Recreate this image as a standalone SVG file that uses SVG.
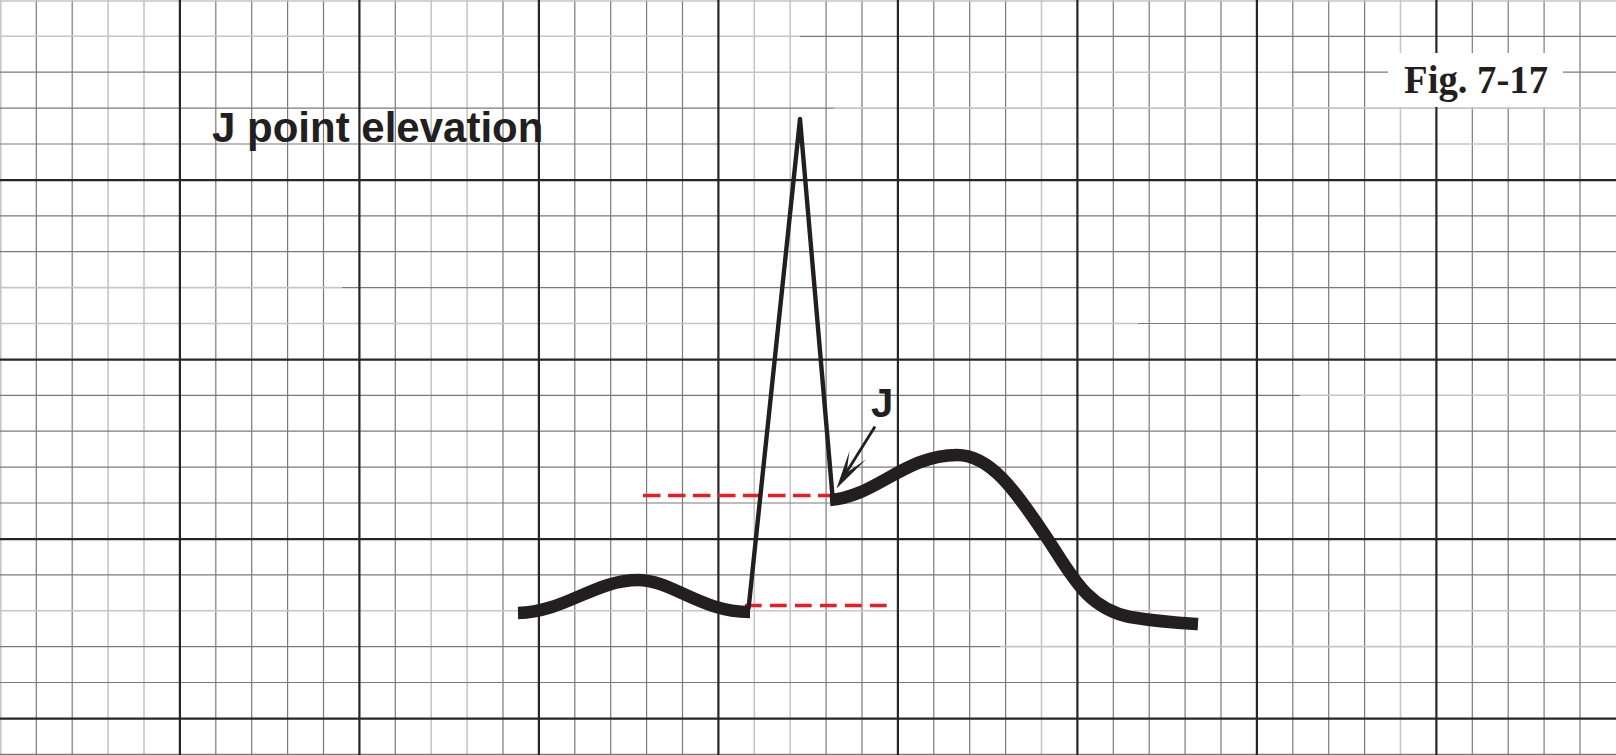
<svg xmlns="http://www.w3.org/2000/svg" width="1616" height="755" viewBox="0 0 1616 755">
<style>
.mn{stroke:#7a7a7a;stroke-width:1.2;fill:none}
.lt{stroke:#c6c6c6;stroke-width:1.6;fill:none}
.mj{stroke:#262626;stroke-width:2.2;fill:none}
.wave{stroke:#231f20;fill:none}
.thick{stroke-width:12.5;stroke-linecap:butt;stroke-linejoin:round}
.thin{stroke-width:4.4;stroke-linecap:butt;stroke-linejoin:round}
.ref{stroke:#ed1c24;stroke-width:3.3;fill:none}
.sans{font-family:"Liberation Sans",Arial,Helvetica,sans-serif;font-weight:bold;fill:#231f20}
.serif{font-family:"Liberation Serif","Times New Roman",serif;font-weight:bold;fill:#231f20}
</style>
<rect x="0" y="0" width="1616" height="755" fill="#ffffff"/>
<g id="grid">
<g id="grid-vertical-minor">
<line class="lt" x1="0.8" y1="0" x2="0.8" y2="755"/>
<line class="mn" x1="36.3" y1="0" x2="36.3" y2="755"/>
<line class="mn" x1="72.2" y1="0" x2="72.2" y2="755"/>
<line class="lt" x1="108.1" y1="0" x2="108.1" y2="755"/>
<line class="lt" x1="144" y1="0" x2="144" y2="755"/>
<line class="mn" x1="215.8" y1="0" x2="215.8" y2="755"/>
<line class="mn" x1="251.7" y1="0" x2="251.7" y2="755"/>
<line class="mn" x1="287.6" y1="0" x2="287.6" y2="755"/>
<line class="mn" x1="323.5" y1="0" x2="323.5" y2="755"/>
<line class="mn" x1="395.3" y1="0" x2="395.3" y2="755"/>
<line class="lt" x1="431.2" y1="0" x2="431.2" y2="755"/>
<line class="lt" x1="467.1" y1="0" x2="467.1" y2="755"/>
<line class="mn" x1="503" y1="0" x2="503" y2="755"/>
<line class="mn" x1="574.8" y1="0" x2="574.8" y2="755"/>
<line class="mn" x1="610.7" y1="0" x2="610.7" y2="755"/>
<line class="mn" x1="646.6" y1="0" x2="646.6" y2="755"/>
<line class="mn" x1="682.5" y1="0" x2="682.5" y2="755"/>
<line class="lt" x1="754.3" y1="0" x2="754.3" y2="755"/>
<line class="lt" x1="790.2" y1="0" x2="790.2" y2="755"/>
<line class="mn" x1="826.1" y1="0" x2="826.1" y2="755"/>
<line class="mn" x1="862" y1="0" x2="862" y2="755"/>
<line class="mn" x1="933.8" y1="0" x2="933.8" y2="755"/>
<line class="mn" x1="969.7" y1="0" x2="969.7" y2="755"/>
<line class="mn" x1="1005.6" y1="0" x2="1005.6" y2="755"/>
<line class="lt" x1="1041.5" y1="0" x2="1041.5" y2="755"/>
<line class="mn" x1="1113.3" y1="0" x2="1113.3" y2="755"/>
<line class="mn" x1="1149.2" y1="0" x2="1149.2" y2="755"/>
<line class="mn" x1="1185.1" y1="0" x2="1185.1" y2="755"/>
<line class="mn" x1="1221" y1="0" x2="1221" y2="755"/>
<line class="mn" x1="1292.8" y1="0" x2="1292.8" y2="755"/>
<line class="mn" x1="1328.7" y1="0" x2="1328.7" y2="755"/>
<line class="mn" x1="1364.6" y1="0" x2="1364.6" y2="755"/>
<line class="lt" x1="1400.5" y1="0" x2="1400.5" y2="755"/>
<line class="mn" x1="1472.3" y1="0" x2="1472.3" y2="755"/>
<line class="mn" x1="1508.2" y1="0" x2="1508.2" y2="755"/>
<line class="mn" x1="1544.1" y1="0" x2="1544.1" y2="755"/>
<line class="mn" x1="1580" y1="0" x2="1580" y2="755"/>
</g>
<g id="grid-horizontal-minor">
<line class="lt" x1="0" y1="1" x2="1616" y2="1"/>
<line class="lt" x1="0" y1="36.3" x2="800" y2="36.3"/>
<line class="mn" x1="800" y1="36.3" x2="1616" y2="36.3"/>
<line class="mn" x1="0" y1="72.2" x2="323" y2="72.2"/>
<line class="lt" x1="323" y1="72.2" x2="1292" y2="72.2"/>
<line class="mn" x1="1292" y1="72.2" x2="1616" y2="72.2"/>
<line class="mn" x1="0" y1="108.1" x2="834" y2="108.1"/>
<line class="lt" x1="834" y1="108.1" x2="1616" y2="108.1"/>
<line class="mn" x1="0" y1="144" x2="1432" y2="144"/>
<line class="lt" x1="1432" y1="144" x2="1616" y2="144"/>
<line class="mn" x1="0" y1="215.8" x2="1616" y2="215.8"/>
<line class="mn" x1="0" y1="251.7" x2="1616" y2="251.7"/>
<line class="lt" x1="0" y1="287.6" x2="342" y2="287.6"/>
<line class="mn" x1="342" y1="287.6" x2="1616" y2="287.6"/>
<line class="lt" x1="0" y1="323.5" x2="1138" y2="323.5"/>
<line class="mn" x1="1138" y1="323.5" x2="1616" y2="323.5"/>
<line class="mn" x1="0" y1="395.3" x2="1300" y2="395.3"/>
<line class="lt" x1="1300" y1="395.3" x2="1616" y2="395.3"/>
<line class="mn" x1="0" y1="431.2" x2="1616" y2="431.2"/>
<line class="mn" x1="0" y1="467.1" x2="1616" y2="467.1"/>
<line class="mn" x1="0" y1="503" x2="1616" y2="503"/>
<line class="mn" x1="0" y1="574.8" x2="1616" y2="574.8"/>
<line class="lt" x1="0" y1="610.7" x2="1616" y2="610.7"/>
<line class="mn" x1="0" y1="646.6" x2="1000" y2="646.6"/>
<line class="lt" x1="1000" y1="646.6" x2="1616" y2="646.6"/>
<line class="mn" x1="0" y1="682.5" x2="1616" y2="682.5"/>
<line class="mn" x1="0" y1="754.3" x2="1616" y2="754.3"/>
</g>
<g id="grid-major">
<line class="mj" x1="179.9" y1="0" x2="179.9" y2="755"/>
<line class="mj" x1="359.4" y1="0" x2="359.4" y2="755"/>
<line class="mj" x1="538.9" y1="0" x2="538.9" y2="755"/>
<line class="mj" x1="718.4" y1="0" x2="718.4" y2="755"/>
<line class="mj" x1="897.9" y1="0" x2="897.9" y2="755"/>
<line class="mj" x1="1077.4" y1="0" x2="1077.4" y2="755"/>
<line class="mj" x1="1256.9" y1="0" x2="1256.9" y2="755"/>
<line class="mj" x1="1436.4" y1="0" x2="1436.4" y2="755"/>
<line class="mj" x1="0" y1="180.2" x2="1616" y2="180.2"/>
<line class="mj" x1="0" y1="359.7" x2="1616" y2="359.7"/>
<line class="mj" x1="0" y1="539.2" x2="1616" y2="539.2"/>
<line class="mj" x1="0" y1="718.6" x2="1616" y2="718.6"/>
</g>
</g>
<g id="title">
<text class="sans" x="212" y="141.5" font-size="42">J point elevation</text>
</g>
<g id="fig-label">
<rect x="1388" y="53" width="175" height="54" fill="#ffffff"/>
<text class="serif" x="1404" y="93" font-size="40" textLength="144" lengthAdjust="spacingAndGlyphs">Fig. 7-17</text>
</g>
<g id="reference-lines">
<line class="ref" x1="745" y1="605.5" x2="887" y2="605.5" stroke-dasharray="16.7 8.3"/>
<line class="ref" x1="643" y1="495.5" x2="835" y2="495.5" stroke-dasharray="17.5 7.5"/>
</g>
<g id="ecg-trace">
<path class="wave thick" d="M518,613 C565,612 595,580 638,580 C672,580 700,612 750,612"/>
<path class="wave thin" d="M748.5,609 L800,119 L832.5,496"/>
<path class="wave thick" d="M830,500 C875,497 905,455 957,455 C990,455 1015,490 1045,535 C1070,572 1085,608 1130,617 C1160,622 1180,623 1198,624"/>
</g>
<g id="j-label">
<text class="sans" x="871" y="416.5" font-size="40">J</text>
<line x1="875" y1="426.5" x2="846" y2="473" stroke="#231f20" stroke-width="2.8"/>
<path d="M836.5,488.5 L849.5,451 L846.5,472.8 L866,459.5 Z" fill="#231f20"/>
</g>
</svg>
